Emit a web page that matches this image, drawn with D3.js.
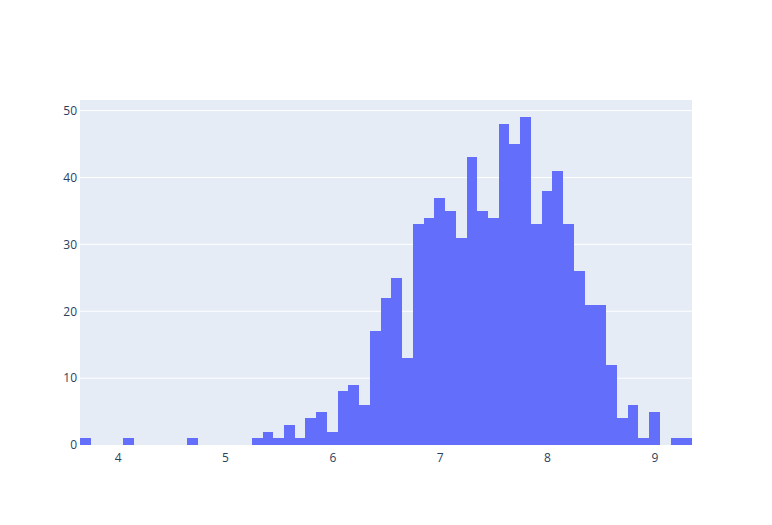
<!DOCTYPE html>
<html><head><meta charset="utf-8">
<script src="https://cdn.jsdelivr.net/npm/d3@7"></script>
<style>body{margin:0;background:#fff}</style>
</head><body>
<script>
const binStart = 3.65;
const binWidth = 0.1;
const counts = [1,0,0,0,1,0,0,0,0,0,1,0,0,0,0,0,1,2,1,3,1,4,5,2,8,9,6,17,22,25,13,33,34,37,35,31,43,35,34,48,45,49,33,38,41,33,26,21,21,12,4,6,1,5,0,1,1];
const xTicks = [4,5,6,7,8,9];
const yTicks = [0,10,20,30,40,50];

const W = 772, H = 525, m = {l:80, r:80, t:100, b:80};
const svg = d3.select("body").append("svg").attr("width", W).attr("height", H);
const bins = counts.map((c,i)=>({x0: binStart + i*binWidth, x1: binStart + (i+1)*binWidth, c}));
const x = d3.scaleLinear().domain([binStart, binStart + counts.length*binWidth]).range([m.l, W-m.r]);
const y = d3.scaleLinear().domain([0, 49*1.0527]).range([H-m.b, m.t]);

svg.append("rect").attr("x", m.l).attr("y", m.t).attr("width", W-m.l-m.r).attr("height", H-m.t-m.b).attr("fill", "#e5ecf6");

const yAxis = d3.axisLeft(y).tickValues(yTicks).tickSize(0).tickPadding(3).tickFormat(d3.format("d"));
const gy = svg.append("g").attr("transform", `translate(${m.l},0)`).call(yAxis);
gy.select(".domain").remove();
gy.selectAll("text").attr("font-family", "'Open Sans', sans-serif").attr("font-size", 12).attr("fill", "#2a3f5f");

svg.append("g").selectAll("line").data(yTicks.filter(d=>d>0)).join("line")
  .attr("x1", m.l).attr("x2", W-m.r).attr("y1", d=>y(d)).attr("y2", d=>y(d))
  .attr("stroke", "#fff").attr("stroke-width", 1);

svg.append("g").selectAll("rect").data(bins.filter(b=>b.c>0)).join("rect")
  .attr("x", d=>x(d.x0)).attr("width", d=>x(d.x1)-x(d.x0))
  .attr("y", d=>y(d.c)).attr("height", d=>y(0)-y(d.c))
  .attr("fill", "#636efa").attr("shape-rendering", "crispEdges");

const xAxis = d3.axisBottom(x).tickValues(xTicks).tickSize(0).tickPadding(8).tickFormat(d3.format("d"));
const gx = svg.append("g").attr("transform", `translate(0,${H-m.b})`).call(xAxis);
gx.select(".domain").remove();
gx.selectAll("text").attr("font-family", "'Open Sans', sans-serif").attr("font-size", 12).attr("fill", "#2a3f5f");
</script>
</body></html>
